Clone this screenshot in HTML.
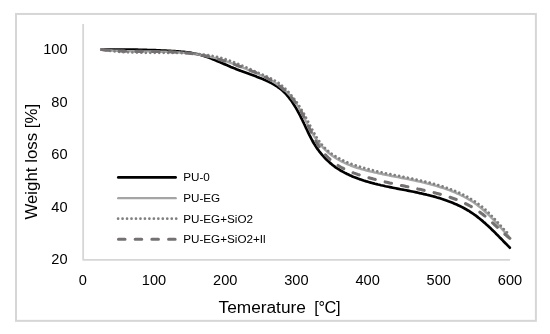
<!DOCTYPE html>
<html><head><meta charset="utf-8"><title>TGA</title>
<style>
html,body{margin:0;padding:0;background:#fff;}
svg{display:block}
text{font-family:"Liberation Sans",sans-serif;fill:#000}
.tick{font-size:14.6px}
.leg{font-size:11.7px}
.ttl{font-size:17px}
</style></head><body>
<svg width="550" height="334" viewBox="0 0 550 334">
<rect x="0" y="0" width="550" height="334" fill="#fff"/>
<rect x="16" y="13.95" width="519.9" height="306.9" fill="#fff" stroke="#d6d6d6" stroke-width="2"/>
<path d="M83.15 24V259.8H510.1" fill="none" stroke="#d6d6d6" stroke-width="1.8" stroke-linejoin="round"/>
<g class="tick" text-anchor="end">
<text x="67.6" y="54.4">100</text>
<text x="67.6" y="106.8">80</text>
<text x="67.6" y="159.3">60</text>
<text x="67.6" y="211.8">40</text>
<text x="67.6" y="264.2">20</text>
</g>
<g class="tick" text-anchor="middle">
<text x="82.8" y="285.0">0</text>
<text x="154" y="285.0">100</text>
<text x="225.2" y="285.0">200</text>
<text x="296.4" y="285.0">300</text>
<text x="367.6" y="285.0">400</text>
<text x="438.8" y="285.0">500</text>
<text x="510" y="285.0">600</text>
</g>
<text class="ttl" x="218.5" y="312.6" style="font-size:17.3px">Temerature <tspan x="314.3" style="font-size:16.4px;letter-spacing:-0.4px">[°C]</tspan></text>
<text class="ttl" text-anchor="middle" transform="translate(36.95 161.7) rotate(-90)" style="font-size:16.85px">Weight loss [%]</text>
<g fill="none" stroke-linejoin="round">
<path d="M101.3 49.6L102.8 49.6 104.3 49.6 105.8 49.6 107.3 49.6 108.8 49.6 110.3 49.6 111.8 49.6 113.3 49.5 114.8 49.5 116.3 49.5 117.8 49.5 119.3 49.5 120.8 49.5 122.3 49.6 123.8 49.6 125.3 49.6 126.8 49.6 128.3 49.6 129.8 49.6 131.3 49.6 132.8 49.7 134.3 49.7 135.8 49.7 137.3 49.7 138.8 49.8 140.3 49.8 141.8 49.8 143.3 49.9 144.8 49.9 146.3 49.9 147.8 50.0 149.4 50.0 150.9 50.1 152.4 50.1 153.9 50.2 155.4 50.2 156.9 50.3 158.4 50.4 159.9 50.4 161.4 50.5 162.9 50.5 164.4 50.6 165.9 50.7 167.4 50.8 168.9 50.8 170.4 50.9 171.9 51.0 173.4 51.1 174.9 51.2 176.4 51.3 177.9 51.4 179.4 51.5 180.9 51.7 182.3 51.8 183.8 51.9 185.3 52.1 186.8 52.3 188.3 52.5 189.7 52.7 191.2 52.9 192.7 53.2 194.1 53.5 195.6 53.8 197.0 54.1 198.5 54.4 199.9 54.8 201.4 55.2 202.8 55.6 204.2 56.1 205.7 56.5 207.1 57.0 208.5 57.5 209.9 58.1 211.3 58.6 212.7 59.2 214.1 59.7 215.5 60.3 216.9 60.9 218.3 61.5 219.7 62.1 221.1 62.7 222.5 63.3 223.9 63.9 225.3 64.5 226.7 65.1 228.1 65.7 229.5 66.3 230.8 66.9 232.2 67.5 233.6 68.1 235.0 68.6 236.4 69.2 237.8 69.7 239.1 70.2 240.5 70.8 241.9 71.3 243.3 71.8 244.7 72.3 246.1 72.8 247.5 73.3 248.9 73.8 250.2 74.3 251.6 74.8 253.0 75.3 254.4 75.8 255.8 76.3 257.2 76.9 258.6 77.4 260.0 78.0 261.4 78.5 262.8 79.1 264.2 79.7 265.6 80.3 267.0 80.9 268.3 81.6 269.7 82.2 271.0 82.9 272.3 83.6 273.6 84.3 274.9 85.1 276.1 85.9 277.4 86.7 278.6 87.6 279.8 88.4 280.9 89.3 282.1 90.3 283.2 91.3 284.2 92.3 285.3 93.4 286.3 94.4 287.3 95.6 288.2 96.7 289.2 97.9 290.1 99.1 291.0 100.3 291.9 101.5 292.7 102.7 293.5 104.0 294.3 105.3 295.1 106.6 295.9 107.9 296.7 109.2 297.4 110.5 298.1 111.9 298.9 113.2 299.6 114.6 300.3 115.9 300.9 117.3 301.6 118.6 302.3 120.0 302.9 121.3 303.6 122.7 304.2 124.0 304.9 125.4 305.5 126.8 306.1 128.1 306.8 129.5 307.4 130.8 308.0 132.2 308.7 133.5 309.3 134.9 310.0 136.2 310.7 137.5 311.4 138.9 312.1 140.2 312.8 141.5 313.5 142.8 314.3 144.1 315.1 145.3 315.9 146.6 316.7 147.9 317.6 149.1 318.5 150.3 319.4 151.6 320.3 152.7 321.3 153.9 322.3 155.1 323.3 156.2 324.3 157.4 325.4 158.5 326.4 159.5 327.5 160.6 328.6 161.6 329.7 162.6 330.9 163.6 332.0 164.6 333.2 165.5 334.4 166.4 335.6 167.3 336.8 168.1 338.1 168.9 339.3 169.7 340.6 170.5 341.9 171.2 343.1 171.9 344.4 172.6 345.8 173.3 347.1 174.0 348.4 174.6 349.7 175.2 351.1 175.8 352.4 176.4 353.8 177.0 355.2 177.5 356.6 178.0 357.9 178.6 359.3 179.1 360.7 179.5 362.1 180.0 363.5 180.5 365.0 180.9 366.4 181.4 367.8 181.8 369.3 182.2 370.7 182.6 372.1 183.0 373.6 183.4 375.0 183.8 376.5 184.1 378.0 184.5 379.4 184.8 380.9 185.2 382.4 185.5 383.8 185.8 385.3 186.2 386.8 186.5 388.3 186.8 389.8 187.1 391.3 187.4 392.8 187.7 394.2 188.0 395.7 188.3 397.2 188.6 398.7 188.9 400.2 189.2 401.7 189.5 403.2 189.7 404.7 190.0 406.2 190.3 407.7 190.6 409.2 190.9 410.7 191.2 412.2 191.5 413.7 191.8 415.2 192.1 416.6 192.4 418.1 192.7 419.6 193.1 421.1 193.4 422.6 193.7 424.0 194.1 425.5 194.4 427.0 194.8 428.4 195.1 429.9 195.5 431.4 195.9 432.8 196.2 434.3 196.6 435.7 197.0 437.1 197.5 438.6 197.9 440.0 198.3 441.4 198.8 442.8 199.2 444.2 199.7 445.7 200.2 447.1 200.7 448.4 201.2 449.8 201.7 451.2 202.2 452.6 202.8 454.0 203.4 455.3 204.0 456.7 204.6 458.0 205.2 459.3 205.8 460.7 206.4 462.0 207.1 463.3 207.8 464.6 208.5 465.9 209.2 467.2 210.0 468.5 210.7 469.7 211.5 471.0 212.3 472.2 213.1 473.5 214.0 474.7 214.9 475.9 215.7 477.1 216.6 478.3 217.6 479.5 218.5 480.7 219.5 481.8 220.4 483.0 221.4 484.1 222.4 485.3 223.4 486.4 224.5 487.6 225.5 488.7 226.5 489.8 227.6 490.9 228.6 492.0 229.7 493.1 230.8 494.2 231.8 495.3 232.9 496.3 234.0 497.4 235.0 498.5 236.1 499.5 237.2 500.6 238.3 501.6 239.3 502.7 240.4 503.7 241.5 504.7 242.5 505.7 243.6 506.8 244.6 507.8 245.6 508.8 246.6 509.8 247.7" stroke="#000" stroke-width="2.7" stroke-linecap="round"/>
<path d="M101.4 49.7L102.8 49.8 104.3 50.0 105.8 50.1 107.3 50.2 108.8 50.3 110.3 50.4 111.8 50.5 113.3 50.6 114.8 50.7 116.3 50.7 117.8 50.8 119.3 50.9 120.8 50.9 122.2 51.0 123.8 51.0 125.3 51.1 126.8 51.1 128.3 51.1 129.8 51.2 131.3 51.2 132.8 51.2 134.3 51.2 135.8 51.3 137.3 51.3 138.8 51.3 140.3 51.3 141.8 51.4 143.3 51.4 144.8 51.4 146.3 51.4 147.8 51.4 149.3 51.5 150.9 51.5 152.4 51.5 153.9 51.5 155.4 51.5 156.9 51.6 158.4 51.6 159.9 51.6 161.4 51.7 162.9 51.7 164.4 51.8 165.9 51.8 167.4 51.9 168.9 51.9 170.4 52.0 171.9 52.1 173.4 52.1 174.9 52.2 176.4 52.3 177.9 52.4 179.4 52.5 180.9 52.6 182.4 52.7 183.9 52.9 185.4 53.0 186.9 53.1 188.4 53.3 189.9 53.5 191.4 53.6 192.8 53.8 194.3 54.0 195.8 54.2 197.3 54.4 198.8 54.6 200.2 54.9 201.7 55.1 203.2 55.4 204.7 55.6 206.1 55.9 207.6 56.2 209.1 56.5 210.5 56.9 212.0 57.2 213.4 57.6 214.9 57.9 216.3 58.3 217.8 58.7 219.2 59.1 220.7 59.5 222.1 60.0 223.6 60.4 225.0 60.9 226.4 61.4 227.9 61.9 229.3 62.4 230.7 62.9 232.2 63.5 233.6 64.0 235.0 64.5 236.4 65.1 237.8 65.6 239.2 66.2 240.6 66.8 242.0 67.3 243.4 67.9 244.8 68.4 246.2 69.0 247.6 69.6 249.0 70.1 250.4 70.7 251.7 71.3 253.1 71.8 254.5 72.4 255.8 73.0 257.2 73.6 258.6 74.2 259.9 74.8 261.3 75.4 262.6 76.1 263.9 76.7 265.3 77.4 266.6 78.1 267.9 78.8 269.3 79.5 270.6 80.2 271.9 81.0 273.2 81.7 274.4 82.5 275.7 83.3 277.0 84.2 278.2 85.0 279.4 85.9 280.6 86.8 281.8 87.7 283.0 88.7 284.1 89.6 285.3 90.6 286.4 91.6 287.4 92.7 288.5 93.8 289.5 94.8 290.5 96.0 291.5 97.1 292.4 98.3 293.3 99.5 294.2 100.7 295.1 101.9 295.9 103.2 296.7 104.4 297.5 105.7 298.3 107.0 299.1 108.3 299.8 109.6 300.5 110.9 301.3 112.3 302.0 113.6 302.7 114.9 303.4 116.3 304.1 117.6 304.7 119.0 305.4 120.3 306.1 121.7 306.8 123.0 307.5 124.4 308.1 125.7 308.8 127.0 309.5 128.3 310.2 129.7 311.0 131.0 311.7 132.3 312.5 133.6 313.3 134.8 314.1 136.1 314.9 137.4 315.7 138.6 316.6 139.8 317.5 141.0 318.4 142.2 319.4 143.4 320.3 144.6 321.3 145.7 322.3 146.8 323.3 147.9 324.4 149.0 325.5 150.0 326.5 151.0 327.7 152.0 328.8 153.0 329.9 153.9 331.1 154.9 332.3 155.7 333.5 156.6 334.7 157.4 336.0 158.2 337.2 159.0 338.5 159.7 339.8 160.5 341.1 161.2 342.4 161.9 343.8 162.5 345.1 163.1 346.5 163.8 347.9 164.3 349.2 164.9 350.6 165.5 352.1 166.0 353.5 166.5 354.9 167.0 356.3 167.5 357.8 168.0 359.2 168.4 360.7 168.9 362.1 169.3 363.6 169.7 365.1 170.1 366.6 170.5 368.0 170.9 369.5 171.2 371.0 171.6 372.5 171.9 374.0 172.3 375.5 172.6 377.0 172.9 378.4 173.3 379.9 173.6 381.4 173.9 382.9 174.2 384.4 174.5 385.9 174.8 387.3 175.1 388.8 175.4 390.3 175.7 391.8 176.0 393.2 176.2 394.7 176.5 396.2 176.8 397.6 177.1 399.1 177.4 400.6 177.7 402.0 178.0 403.5 178.3 405.0 178.5 406.4 178.8 407.9 179.1 409.3 179.4 410.8 179.7 412.3 180.0 413.7 180.3 415.2 180.6 416.6 181.0 418.1 181.3 419.5 181.6 421.0 181.9 422.4 182.3 423.9 182.6 425.4 183.0 426.8 183.4 428.3 183.7 429.7 184.1 431.2 184.5 432.6 184.9 434.1 185.3 435.5 185.7 437.0 186.1 438.4 186.6 439.9 187.0 441.3 187.5 442.8 187.9 444.2 188.4 445.6 188.9 447.0 189.4 448.5 189.9 449.9 190.4 451.3 191.0 452.7 191.5 454.1 192.1 455.5 192.7 456.8 193.3 458.2 193.9 459.6 194.5 460.9 195.2 462.3 195.9 463.6 196.5 464.9 197.2 466.3 198.0 467.6 198.7 468.8 199.4 470.1 200.2 471.4 201.0 472.7 201.8 473.9 202.6 475.1 203.5 476.3 204.4 477.5 205.3 478.7 206.2 479.9 207.1 481.1 208.1 482.2 209.0 483.4 210.0 484.5 211.0 485.6 212.0 486.7 213.0 487.8 214.1 488.9 215.1 490.0 216.2 491.0 217.3 492.1 218.3 493.1 219.4 494.2 220.5 495.2 221.6 496.3 222.7 497.3 223.8 498.3 224.9 499.3 226.0 500.3 227.2 501.3 228.3 502.3 229.4 503.3 230.5 504.3 231.6 505.3 232.7 506.3 233.8 507.3 234.9 508.3 236.0" stroke="#a5a5a5" stroke-width="2.4" stroke-linecap="round"/>
<path d="M101.3 49.6L102.8 49.9 104.3 50.1 105.8 50.3 107.3 50.5 108.8 50.7 110.2 50.9 111.7 51.1 113.2 51.2 114.7 51.4 116.2 51.5 117.8 51.6 119.3 51.8 120.8 51.9 122.3 52.0 123.8 52.1 125.3 52.2 126.8 52.2 128.3 52.3 129.8 52.4 131.3 52.4 132.8 52.5 134.3 52.5 135.8 52.6 137.3 52.6 138.8 52.7 140.3 52.7 141.8 52.7 143.3 52.7 144.8 52.8 146.3 52.8 147.9 52.8 149.4 52.8 150.9 52.8 152.4 52.8 153.9 52.8 155.4 52.8 156.9 52.8 158.4 52.8 159.9 52.8 161.4 52.8 162.9 52.8 164.4 52.8 165.9 52.8 167.4 52.9 168.9 52.9 170.4 52.9 171.9 52.9 173.4 52.9 174.9 52.9 176.4 52.9 177.9 53.0 179.4 53.0 180.9 53.0 182.4 53.1 183.9 53.1 185.3 53.2 186.8 53.2 188.3 53.3 189.8 53.4 191.3 53.4 192.8 53.5 194.3 53.6 195.7 53.7 197.2 53.9 198.7 54.0 200.2 54.1 201.7 54.3 203.1 54.5 204.6 54.6 206.1 54.8 207.5 55.1 209.0 55.3 210.5 55.5 211.9 55.8 213.4 56.1 214.9 56.4 216.3 56.7 217.8 57.0 219.2 57.4 220.7 57.8 222.1 58.2 223.6 58.6 225.0 59.0 226.5 59.5 227.9 60.0 229.4 60.5 230.8 61.0 232.2 61.5 233.7 62.1 235.1 62.6 236.5 63.2 237.9 63.8 239.4 64.4 240.8 65.0 242.2 65.6 243.6 66.2 245.0 66.8 246.4 67.4 247.8 68.1 249.3 68.7 250.7 69.3 252.1 69.9 253.4 70.5 254.8 71.2 256.2 71.8 257.6 72.4 259.0 73.0 260.4 73.6 261.7 74.2 263.1 74.8 264.5 75.4 265.8 76.0 267.2 76.6 268.5 77.2 269.8 77.8 271.1 78.5 272.4 79.2 273.7 79.9 274.9 80.6 276.2 81.4 277.4 82.2 278.6 83.0 279.7 83.9 280.9 84.8 282.0 85.7 283.1 86.7 284.2 87.7 285.3 88.7 286.4 89.7 287.4 90.8 288.4 91.9 289.4 93.0 290.4 94.1 291.4 95.3 292.3 96.4 293.3 97.6 294.2 98.8 295.1 100.0 296.0 101.2 296.9 102.4 297.7 103.7 298.6 104.9 299.4 106.2 300.2 107.5 301.0 108.8 301.8 110.1 302.6 111.4 303.3 112.7 304.1 114.0 304.8 115.4 305.5 116.7 306.2 118.1 306.9 119.4 307.7 120.8 308.4 122.2 309.1 123.5 309.8 124.9 310.5 126.2 311.2 127.6 311.9 128.9 312.6 130.3 313.3 131.6 314.1 132.9 314.8 134.2 315.6 135.5 316.3 136.8 317.1 138.1 318.0 139.3 318.8 140.5 319.7 141.7 320.5 142.9 321.5 144.1 322.4 145.2 323.4 146.3 324.4 147.4 325.4 148.4 326.4 149.4 327.5 150.4 328.6 151.4 329.8 152.3 330.9 153.2 332.1 154.1 333.3 154.9 334.6 155.7 335.8 156.5 337.1 157.3 338.4 158.0 339.7 158.7 341.0 159.4 342.3 160.1 343.7 160.7 345.1 161.4 346.4 162.0 347.8 162.5 349.2 163.1 350.7 163.6 352.1 164.2 353.5 164.7 354.9 165.2 356.4 165.6 357.8 166.1 359.3 166.5 360.7 167.0 362.2 167.4 363.6 167.8 365.1 168.2 366.6 168.6 368.0 169.0 369.5 169.4 371.0 169.8 372.4 170.1 373.9 170.5 375.4 170.9 376.8 171.2 378.3 171.6 379.8 171.9 381.2 172.2 382.7 172.5 384.2 172.9 385.7 173.2 387.2 173.5 388.6 173.8 390.1 174.1 391.6 174.4 393.1 174.7 394.5 175.0 396.0 175.3 397.5 175.6 399.0 175.9 400.4 176.2 401.9 176.5 403.4 176.8 404.9 177.1 406.3 177.4 407.8 177.7 409.3 178.0 410.8 178.3 412.2 178.6 413.7 179.0 415.2 179.3 416.6 179.6 418.1 179.9 419.6 180.2 421.0 180.6 422.5 180.9 423.9 181.3 425.4 181.6 426.9 182.0 428.3 182.3 429.8 182.7 431.2 183.1 432.7 183.5 434.1 183.9 435.5 184.3 437.0 184.7 438.4 185.1 439.8 185.5 441.3 186.0 442.7 186.4 444.1 186.9 445.5 187.4 447.0 187.9 448.4 188.4 449.8 188.9 451.2 189.4 452.5 189.9 453.9 190.5 455.3 191.0 456.7 191.6 458.0 192.2 459.4 192.8 460.8 193.5 462.1 194.1 463.4 194.8 464.8 195.4 466.1 196.1 467.4 196.8 468.7 197.6 470.0 198.3 471.2 199.1 472.5 199.9 473.8 200.7 475.0 201.5 476.2 202.3 477.5 203.2 478.7 204.1 479.9 205.0 481.0 205.9 482.2 206.8 483.4 207.8 484.5 208.8 485.7 209.8 486.8 210.9 487.9 211.9 489.0 213.0 490.0 214.1 491.1 215.2 492.2 216.3 493.2 217.4 494.3 218.5 495.3 219.7 496.3 220.8 497.4 221.9 498.4 223.1 499.4 224.2 500.4 225.3 501.4 226.4 502.4 227.5 503.4 228.6 504.4 229.7 505.4 230.7 506.4 231.8 507.4 232.8 508.4 233.8 509.4 234.7" stroke="#7f7f7f" stroke-width="2.7" stroke-linecap="round" stroke-dasharray="0.01 4.46"/>
<path d="M101.5 49.5L102.9 49.7 104.4 49.9 105.9 50.0 107.4 50.2 108.9 50.3 110.3 50.4 111.8 50.5 113.3 50.6 114.8 50.7 116.3 50.8 117.8 50.9 119.3 51.0 120.8 51.0 122.3 51.1 123.8 51.1 125.3 51.2 126.8 51.2 128.3 51.3 129.8 51.3 131.3 51.3 132.8 51.3 134.3 51.4 135.8 51.4 137.4 51.4 138.9 51.4 140.4 51.4 141.9 51.4 143.4 51.4 144.9 51.4 146.4 51.4 147.9 51.4 149.5 51.5 151.0 51.5 152.5 51.5 154.0 51.5 155.5 51.5 157.0 51.5 158.5 51.5 160.0 51.5 161.5 51.6 163.1 51.6 164.6 51.6 166.1 51.7 167.6 51.7 169.1 51.8 170.6 51.8 172.1 51.9 173.6 52.0 175.1 52.0 176.6 52.1 178.1 52.2 179.6 52.3 181.1 52.4 182.6 52.6 184.1 52.7 185.6 52.8 187.1 53.0 188.6 53.2 190.1 53.3 191.5 53.5 193.0 53.7 194.5 53.9 196.0 54.2 197.5 54.4 198.9 54.7 200.4 54.9 201.9 55.2 203.3 55.5 204.8 55.8 206.3 56.1 207.7 56.5 209.2 56.8 210.6 57.2 212.1 57.5 213.5 57.9 215.0 58.3 216.4 58.7 217.9 59.1 219.3 59.5 220.7 59.9 222.2 60.4 223.6 60.8 225.1 61.3 226.5 61.7 227.9 62.2 229.4 62.7 230.8 63.2 232.2 63.6 233.6 64.1 235.1 64.6 236.5 65.2 237.9 65.7 239.3 66.2 240.7 66.7 242.2 67.2 243.6 67.8 245.0 68.3 246.4 68.8 247.8 69.4 249.2 69.9 250.6 70.5 252.0 71.1 253.4 71.6 254.8 72.2 256.2 72.8 257.6 73.4 259.0 74.0 260.3 74.7 261.7 75.3 263.0 76.0 264.4 76.6 265.7 77.3 267.0 78.0 268.3 78.8 269.6 79.5 270.9 80.2 272.2 81.0 273.5 81.8 274.7 82.6 276.0 83.5 277.2 84.3 278.4 85.2 279.6 86.1 280.8 87.1 281.9 88.0 283.1 89.0 284.2 90.0 285.3 91.0 286.4 92.1 287.5 93.1 288.5 94.2 289.5 95.4 290.6 96.5 291.5 97.6 292.5 98.8 293.5 100.0 294.4 101.2 295.3 102.4 296.2 103.6 297.0 104.9 297.8 106.1 298.6 107.4 299.4 108.7 300.2 109.9 300.9 111.2 301.7 112.5 302.4 113.9 303.1 115.2 303.7 116.5 304.4 117.9 305.1 119.2 305.7 120.5 306.4 121.9 307.0 123.2 307.7 124.6 308.3 125.9 308.9 127.3 309.6 128.7 310.2 130.0 310.9 131.4 311.5 132.7 312.2 134.1 312.8 135.4 313.5 136.8 314.2 138.1 314.9 139.4 315.6 140.7 316.3 142.0 317.1 143.3 317.8 144.6 318.6 145.9 319.4 147.1 320.3 148.4 321.1 149.6 322.0 150.8 323.0 152.0 323.9 153.1 324.9 154.3 325.9 155.4 327.0 156.5 328.1 157.6 329.2 158.6 330.3 159.7 331.5 160.7 332.7 161.6 333.9 162.6 335.1 163.5 336.4 164.4 337.6 165.2 338.9 166.0 340.2 166.8 341.5 167.5 342.8 168.2 344.1 168.9 345.4 169.6 346.8 170.2 348.1 170.8 349.4 171.3 350.8 171.9 352.2 172.4 353.5 172.9 354.9 173.4 356.3 173.9 357.7 174.4 359.1 174.8 360.5 175.3 361.9 175.7 363.3 176.1 364.7 176.6 366.1 177.0 367.6 177.4 369.0 177.8 370.5 178.2 371.9 178.6 373.4 179.0 374.8 179.3 376.3 179.7 377.7 180.1 379.2 180.4 380.7 180.8 382.2 181.2 383.6 181.5 385.1 181.9 386.6 182.2 388.1 182.5 389.6 182.9 391.1 183.2 392.6 183.5 394.1 183.9 395.6 184.2 397.1 184.5 398.6 184.8 400.0 185.2 401.5 185.5 403.0 185.8 404.5 186.1 406.0 186.4 407.5 186.7 409.0 187.1 410.5 187.4 412.0 187.7 413.5 188.0 415.0 188.3 416.5 188.6 418.0 189.0 419.5 189.3 421.0 189.6 422.5 189.9 423.9 190.3 425.4 190.6 426.9 190.9 428.4 191.3 429.8 191.6 431.3 192.0 432.8 192.3 434.2 192.7 435.7 193.1 437.1 193.4 438.6 193.8 440.0 194.2 441.4 194.6 442.9 195.0 444.3 195.5 445.7 195.9 447.1 196.3 448.5 196.8 449.9 197.2 451.3 197.7 452.7 198.2 454.1 198.7 455.5 199.2 456.9 199.8 458.2 200.3 459.6 200.9 460.9 201.5 462.3 202.1 463.6 202.7 464.9 203.3 466.3 204.0 467.6 204.6 468.9 205.3 470.2 206.0 471.5 206.8 472.8 207.5 474.0 208.3 475.3 209.1 476.6 209.9 477.8 210.7 479.0 211.6 480.3 212.5 481.5 213.4 482.7 214.3 483.9 215.3 485.1 216.2 486.3 217.2 487.4 218.2 488.6 219.2 489.8 220.3 490.9 221.3 492.1 222.4 493.2 223.4 494.3 224.5 495.5 225.5 496.6 226.6 497.7 227.6 498.8 228.7 499.9 229.7 501.1 230.7 502.2 231.8 503.3 232.8 504.4 233.8 505.5 234.7 506.6 235.7 507.7 236.6 508.8 237.5 509.9 238.4" stroke="#767171" stroke-width="3.1" stroke-linecap="round" stroke-dasharray="6.5 10.2" stroke-dashoffset="15.7"/>
</g>
<g fill="none" stroke-linecap="round">
<path d="M118.3 177.4H175.6" stroke="#000" stroke-width="2.7"/>
<path d="M118.3 198.15H175.6" stroke="#a5a5a5" stroke-width="2.4"/>
<path d="M118.1 218.7H176.5" stroke="#7f7f7f" stroke-width="2.7" stroke-dasharray="0.01 4.46"/>
<path d="M118.5 239.2H176.5" stroke="#767171" stroke-width="3.1" stroke-dasharray="6.5 10.2"/>
</g>
<g class="leg">
<text x="183.2" y="181.3">PU-0</text>
<text x="183.2" y="201.9">PU-EG</text>
<text x="183.2" y="222.8">PU-EG+SiO2</text>
<text x="183.2" y="242.8">PU-EG+SiO2+Il</text>
</g>
</svg>
</body></html>
